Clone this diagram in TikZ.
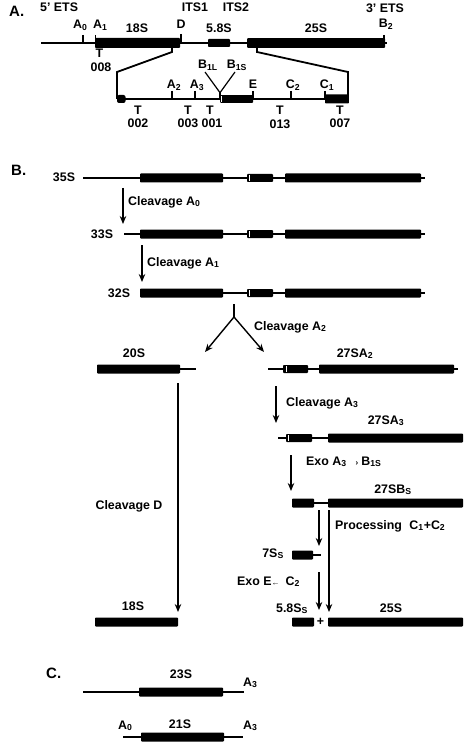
\documentclass[tikz,border=0pt]{standalone}
\usepackage{fontspec}
\setmainfont{Liberation Sans}
\usetikzlibrary{arrows.meta}
\tikzset{
  rna/.style={line width=1.8pt},
  blk/.style={fill=black, draw=none, rounded corners=0.8pt},
  lbl/.style={font=\fontsize{12.4}{12.4}\selectfont\bfseries, inner sep=0pt},
  lblw/.style={lbl, anchor=base west},
  lblc/.style={lbl, anchor=base},
  lble/.style={lbl, anchor=base east},
  big/.style={font=\fontsize{15}{15}\selectfont\bfseries, inner sep=0pt, anchor=base west},
  tickmark/.style={line width=1.3pt},
  arr/.style={line width=1.4pt, -{Stealth[length=8pt,width=6.5pt]}},
  whitemark/.style={draw=white, line width=0.9pt},
}
\newcommand{\rnabox}[4]{\fill[blk] (#1,#3-#4) rectangle (#2,#3+#4);}
\begin{document}
\begin{tikzpicture}[x=1pt,y=-1pt]
\useasboundingbox (0,0) rectangle (474,751);
% ---------------- A ----------------
\node[big] (labA) at (9,17) {A.};
\node[lblw] (ets5) at (40,12) {5' ETS};
\node[lblc] (its1) at (195,12) {ITS1};
\node[lblc] (its2) at (236,12) {ITS2};
\node[lblc] (ets3) at (385,13) {3' ETS};
\draw[rna] (41,43) -- (387,43);
\rnabox{95}{180}{43}{5}
\rnabox{208}{230}{43}{4}
\rnabox{247}{385}{43}{4.8}
\draw[tickmark] (83,35) -- (83,43);
\draw[tickmark] (95.5,35) -- (95.5,43);
\draw[tickmark] (181,34) -- (181,43);
\draw[tickmark] (384,35) -- (384,43);
\node[lblw] (lA0) at (73,29) {A\textsubscript{0}};
\node[lblw] (lA1) at (93,29) {A\textsubscript{1}};
\node[lblc] (l18S) at (137,33) {18S};
\node[lblc] (lD) at (181,29) {D};
\node[lblc] (l58S) at (219,33) {5.8S};
\node[lblc] (l25S) at (316,33) {25S};
\node[lblc] (lB2) at (386,28) {B\textsubscript{2}};
\node[lblc] (t008) at (99.5,58) {T};
\node[lblc] (n008) at (101,72) {008};
% expansion
\coordinate (eL0) at (172,48); \coordinate (eL1) at (172,52); \coordinate (eL2) at (117,72); \coordinate (eL3) at (117,99);
\coordinate (eR0) at (257,48); \coordinate (eR1) at (257,52); \coordinate (eR2) at (348,72); \coordinate (eR3) at (348,99);
\draw[line width=1.8pt] (eL0) -- (eL1) -- (eL2) -- (eL3);
\draw[line width=1.8pt] (eR0) -- (eR1) -- (eR2) -- (eR3);
\draw[rna] (eL3) -- (eR3);
\fill[black, rounded corners=2pt] (117,95) rectangle (125.5,103);
\rnabox{220}{253}{99}{3.8}
\rnabox{325}{348.9}{99}{4.5}
\draw[whitemark] (221.5,96) -- (221.5,102);
\foreach \xx in {172,195,253,291,325} {\draw[tickmark] (\xx,91) -- (\xx,99);}
\draw[line width=1.2pt] (205,72) -- (219.5,92);
\draw[line width=1.2pt] (235,72) -- (220.5,92);
\draw[line width=1.2pt] (220,92) -- (220,99);
\node[lblc] (lA2) at (174,89) {A\textsubscript{2}};
\node[lblc] (lA3) at (197,89) {A\textsubscript{3}};
\node[lblc] (lB1L) at (208,69) {B\textsubscript{1L}};
\node[lblc] (lB1S) at (237,69) {B\textsubscript{1S}};
\node[lblc] (lE) at (253,89) {E};
\node[lblc] (lC2) at (293,89) {C\textsubscript{2}};
\node[lblc] (lC1) at (327,89) {C\textsubscript{1}};
\node[lblc] (t002) at (138,115) {T};
\node[lblc] (t003) at (188,115) {T};
\node[lblc] (t001) at (210,115) {T};
\node[lblc] (t013) at (280,115) {T};
\node[lblc] (t007) at (340,115) {T};
\node[lblc] (n002) at (138,128) {002};
\node[lblc] (n003) at (188,128) {003};
\node[lblc] (n001) at (212,128) {001};
\node[lblc] (n013) at (280,129) {013};
\node[lblc] (n007) at (340,128) {007};
% ---------------- B ----------------
\node[big] (labB) at (11,176) {B.};
% 35S
\node[lblc] (l35S) at (64,182) {35S};
\draw[rna] (83,178) -- (425,178);
\rnabox{140}{223}{178}{4.5}
\rnabox{247}{273}{178}{4}
\rnabox{285}{421}{178}{4.5}
\draw[whitemark] (249,175) -- (249,181);
% arrow A0
\coordinate (a0s) at (123,188); \coordinate (a0e) at (123,224);
\draw[arr] (a0s) -- (a0e);
\node[lblw] (cA0) at (128,205) {Cleavage A\textsubscript{0}};
% 33S
\node[lblc] (l33S) at (102,238) {33S};
\draw[rna] (124,234) -- (425,234);
\rnabox{140}{223}{234}{4.5}
\rnabox{247}{273}{234}{4}
\rnabox{285}{421}{234}{4.5}
\draw[whitemark] (249,231) -- (249,237);
% arrow A1
\coordinate (a1s) at (142,245); \coordinate (a1e) at (142,282);
\draw[arr] (a1s) -- (a1e);
\node[lblw] (cA1) at (147,266) {Cleavage A\textsubscript{1}};
% 32S
\node[lblc] (l32S) at (119,297) {32S};
\draw[rna] (140,293) -- (425,293);
\rnabox{140}{223}{293}{4.5}
\rnabox{247}{273}{293}{4}
\rnabox{285}{421}{293}{4.5}
\draw[whitemark] (249,290) -- (249,296);
% split A2
\coordinate (a2s) at (234,304); \coordinate (a2m) at (234,317);
\coordinate (a2l) at (205,352); \coordinate (a2r) at (264,352);
\draw[line width=1.4pt] (a2s) -- (a2m);
\draw[arr] (a2m) -- (a2l);
\draw[arr] (a2m) -- (a2r);
\node[lblw] (cA2) at (254,330) {Cleavage A\textsubscript{2}};
% 20S
\node[lblc] (l20S) at (134,357) {20S};
\draw[rna] (97,369) -- (196,369);
\rnabox{97}{180}{369}{4.5}
% 27SA2
\node[lblc] (l27SA2) at (355,357) {27SA\textsubscript{2}};
\draw[rna] (268,369) -- (458,369);
\rnabox{283}{308}{369}{4}
\rnabox{319}{454}{369}{4.5}
\draw[whitemark] (286,366) -- (286,372);
% cleavage D
\coordinate (cds) at (178,383); \coordinate (cde) at (178,612);
\draw[arr] (cds) -- (cde);
\node[lblc] (cD) at (129,509) {Cleavage D};
% cleavage A3
\coordinate (a3s) at (276,386); \coordinate (a3e) at (276,423);
\draw[arr] (a3s) -- (a3e);
\node[lblw] (cA3) at (286,406) {Cleavage A\textsubscript{3}};
% 27SA3
\node[lblc] (l27SA3) at (386,424) {27SA\textsubscript{3}};
\draw[rna] (278,438) -- (330,438);
\rnabox{286}{312}{438}{4}
\rnabox{328}{463}{438}{4.5}
\draw[whitemark] (288.5,435) -- (288.5,441);
% exo A3 -> B1S
\coordinate (exs) at (291,455); \coordinate (exe) at (291,491);
\draw[arr] (exs) -- (exe);
\node[lblw] (cExo) at (306,465) {Exo A\textsubscript{3}\hspace{9pt}{\fontsize{8}{8}\selectfont ›}\hspace{3pt}B\textsubscript{1S}};
% 27SBS
\node[lblc] (l27SBS) at (393,493) {27SB\textsubscript{S}};
\draw[line width=1.4pt] (292,503) -- (330,503);
\rnabox{292}{314}{503}{4.5}
\rnabox{328}{463}{503}{4.5}
% processing
\coordinate (p1s) at (319,510); \coordinate (p1e) at (319,546);
\coordinate (p2s) at (329,510); \coordinate (p2e) at (329,612);
\draw[arr] (p1s) -- (p1e);
\draw[arr] (p2s) -- (p2e);
\node[lblw] (cProc) at (335,529) {Processing\hspace{4pt} C\textsubscript{1}+C\textsubscript{2}};
% 7SS
\node[lble] (l7SS) at (284,557) {7S\textsubscript{S}};
\draw[rna] (292,555) -- (321,555);
\rnabox{292}{313}{555}{4.5}
% exo E<-C2
\node[lblw] (cExoE) at (237,585) {Exo E{\fontsize{8}{8}\selectfont ←}\hspace{6pt}C\textsubscript{2}};
\coordinate (e2s) at (319,572); \coordinate (e2e) at (319,610);
\draw[arr] (e2s) -- (e2e);
% final products
\node[lblc] (l18Sb) at (133,610) {18S};
\rnabox{95}{178}{622}{4.5}
\node[lblc] (l58SS) at (292,612) {5.8S\textsubscript{S}};
\rnabox{292}{314}{622}{4.5}
\node[lbl] (plus) at (320.5,622) {+};
\node[lblc] (l25Sb) at (391,612) {25S};
\rnabox{328}{463}{622}{4.5}
% ---------------- C ----------------
\node[big] (labC) at (46,678) {C.};
\node[lblc] (l23S) at (181,678) {23S};
\draw[rna] (83,692) -- (244,692);
\rnabox{139}{223}{692}{4.5}
\node[lblw] (lA3c) at (243,686) {A\textsubscript{3}};
\node[lblw] (lA0c) at (118,729) {A\textsubscript{0}};
\node[lblc] (l21S) at (180,728) {21S};
\draw[rna] (123,737) -- (243,737);
\rnabox{141}{224}{737}{4.5}
\node[lblw] (lA3d) at (243,729) {A\textsubscript{3}};
\end{tikzpicture}
\end{document}
